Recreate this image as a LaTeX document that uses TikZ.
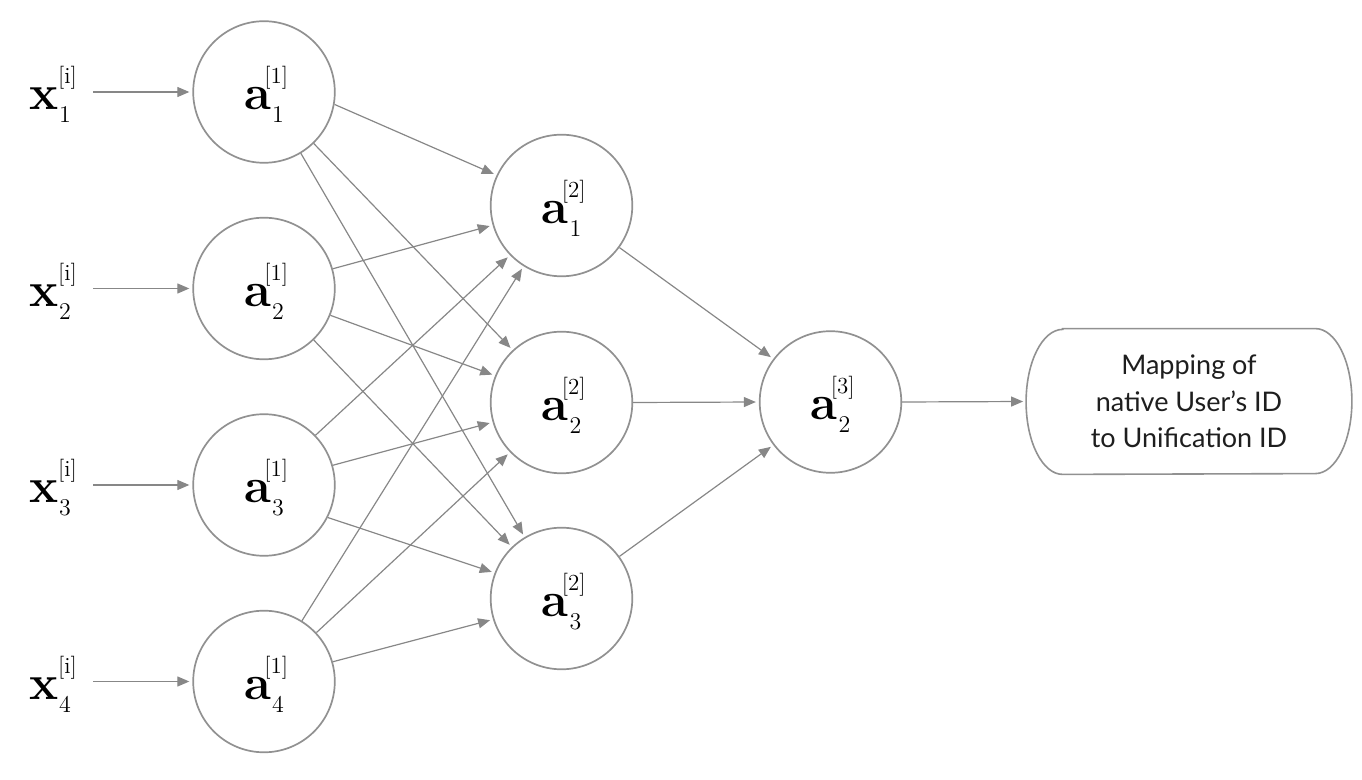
\documentclass[tikz,border=0pt]{standalone}
\usepackage{fontspec}
\newfontfamily\boxfont{Lato}
\usetikzlibrary{arrows.meta}
\definecolor{edgegray}{RGB}{135,135,135}
\definecolor{ringgray}{RGB}{145,145,145}
\definecolor{boxtext}{RGB}{30,30,30}
% #1 base letter, #2 kern before superscript, #3 superscript, #4 subscript
\newcommand{\nlab}[4]{\rule{0pt}{24.5pt}\textbf{#1}\kern#2\rlap{\raisebox{13pt}{\fontsize{11.5}{11.5}\selectfont[#3]}}\kern-#2\kern0.5pt\raisebox{-6.5pt}{\fontsize{12}{12}\selectfont #4}}
\tikzset{
  neuron/.style={circle, draw=ringgray, line width=0.85pt, minimum size=70.8pt, inner sep=0pt, font=\fontsize{24.5}{28}\selectfont},
  xlab/.style={inner sep=0pt, font=\fontsize{24.5}{28}\selectfont},
  wire/.style={draw=edgegray, line width=0.6pt, -{Triangle[length=6pt,width=5pt]}, shorten >=1.5pt},
  boxline/.style={draw=ringgray, line width=0.8pt},
  outbox/.style={minimum width=162.5pt, minimum height=72.5pt, inner sep=0pt, align=center, text=boxtext, font=\boxfont\fontsize{13.5}{18.2}\selectfont}
}
\begin{document}
\begin{tikzpicture}[x=0.5pt,y=-0.5pt]
\useasboundingbox (0,0) rectangle (1362,780);
% layer 1
\node[neuron] (a11) at (264,92) {\nlab{a}{-3.3pt}{1}{1}};
\node[neuron] (a21) at (264,288.5) {\nlab{a}{-3.3pt}{1}{2}};
\node[neuron] (a31) at (264,485) {\nlab{a}{-3.3pt}{1}{3}};
\node[neuron] (a41) at (264,681.5) {\nlab{a}{-3.3pt}{1}{4}};
% inputs
\node[xlab] (x1) at (50,92) {\nlab{x}{0pt}{i}{1}};
\node[xlab] (x2) at (50,288.5) {\nlab{x}{0pt}{i}{2}};
\node[xlab] (x3) at (50,485) {\nlab{x}{0pt}{i}{3}};
\node[xlab] (x4) at (50,681.5) {\nlab{x}{0pt}{i}{4}};
% layer 2
\node[neuron] (a12) at (561.5,205.5) {\nlab{a}{-3.3pt}{2}{1}};
\node[neuron] (a22) at (561.5,402.5) {\nlab{a}{-3.3pt}{2}{2}};
\node[neuron] (a32) at (561.5,598.5) {\nlab{a}{-3.3pt}{2}{3}};
% layer 3
\node[neuron] (a3) at (830.5,402) {\nlab{a}{-3.3pt}{3}{2}};
% output box
\node[outbox] (out) at (1189,401.5) {Mapping of\\native User’s ID\\to Unification ID};
\draw[boxline] ([xshift=18.3pt]out.north west) -- ([xshift=-18.3pt]out.north east)
  arc[start angle=90,end angle=-90,x radius=18.3pt,y radius=36.25pt]
  -- ([xshift=18.3pt]out.south west)
  arc[start angle=270,end angle=90,x radius=18.3pt,y radius=36.25pt] -- cycle;
% input arrows
\foreach \i in {1,2,3,4}{
  \draw[wire, shorten <=11pt] (x\i) -- (a\i1);
}
% layer 1 -> layer 2
\draw[wire] (a11.-10) -- (a12.155);
\draw[wire] (a11.-46) -- (a22.133);
\draw[wire] (a11.-59) -- (a32.121);
\draw[wire] (a21.16) -- (a12.196);
\draw[wire] (a21.-22) -- (a22.158);
\draw[wire] (a21.-46) -- (a32.134);
\draw[wire] (a31.44) -- (a12.224);
\draw[wire] (a31.16) -- (a22.196);
\draw[wire] (a31.-27) -- (a32.159);
\draw[wire] (a41.58) -- (a12.238);
\draw[wire] (a41.43) -- (a22.224);
\draw[wire] (a41.16) -- (a32.197);
% layer 2 -> layer 3
\draw[wire] (a12.-36) -- (a3.143);
\draw[wire] (a22.0) -- (a3.180);
\draw[wire] (a32.36) -- (a3.217);
% to output
\draw[wire] (a3.0) -- (out.west);
\end{tikzpicture}
\end{document}
